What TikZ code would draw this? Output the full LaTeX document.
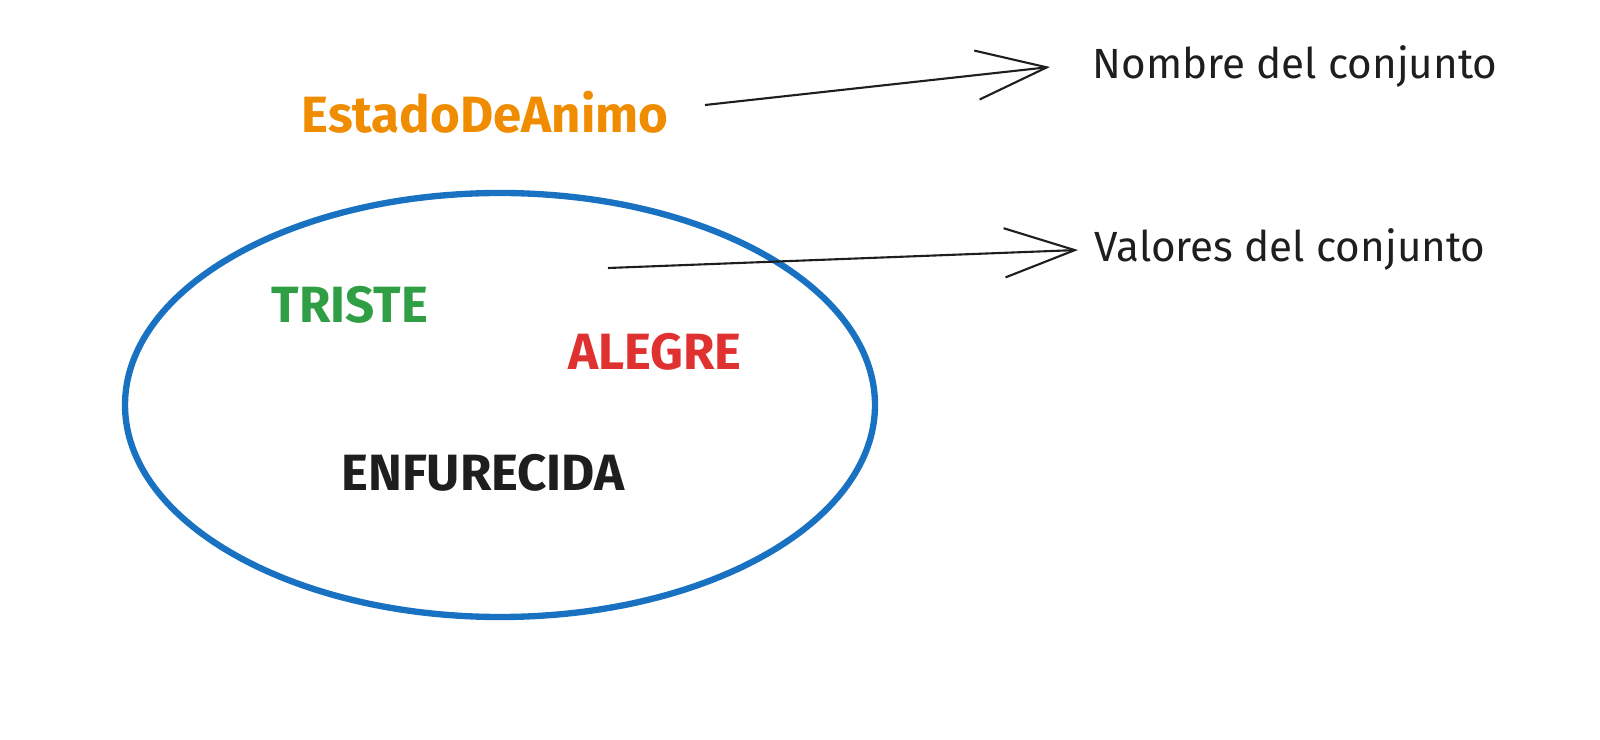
\documentclass[tikz,border=0pt]{standalone}
\usepackage{fontspec}
\setmainfont{Fira Sans}
\usepackage{tikz}
\definecolor{setblue}{RGB}{25,113,194}
\definecolor{setorange}{RGB}{240,140,0}
\definecolor{setgreen}{RGB}{47,158,68}
\definecolor{setred}{RGB}{224,49,49}
\definecolor{ink}{RGB}{30,30,30}
\usetikzlibrary{arrows.meta,calc}

\begin{document}
\begin{tikzpicture}[x=0.01cm, y=-0.01cm,
    label/.style={font=\fontsize{12}{14}\selectfont, text=ink, anchor=west, inner sep=0pt},
    value/.style={font=\fontsize{14.5}{17}\selectfont\bfseries, inner sep=0pt},
    pointer/.style={-{Straight Barb[length=20pt, width=14pt]}, ink, line width=0.6pt}]
    % the set
    \draw[setblue, line width=1.8pt] (500,405) ellipse [x radius=375, y radius=212];
    % name and values
    \node[value, text=setorange] (name) at (485,112) {EstadoDeAnimo};
    \node[value, text=setgreen] (triste) at (350,305) {TRISTE};
    \node[value, text=setred] (alegre) at (655,352) {ALEGRE};
    \node[value, text=ink] (enfurecida) at (483,473) {ENFURECIDA};
    % explanations
    \node[label] (nombre) at (1092,67) {Nombre del conjunto};
    \node[label] (valores) at (1094,250) {Valores del conjunto};
    \coordinate (nameend) at (705,105);
    \coordinate (setend) at (608,268);
    \draw[pointer] (nameend) -- ($(nombre.west)+(-42,0)$);
    \draw[pointer] (setend) -- ($(valores.west)+(-16,0)$);
    \pgfresetboundingbox
    \useasboundingbox (0,0) rectangle (1600,740);
\end{tikzpicture}
\end{document}
